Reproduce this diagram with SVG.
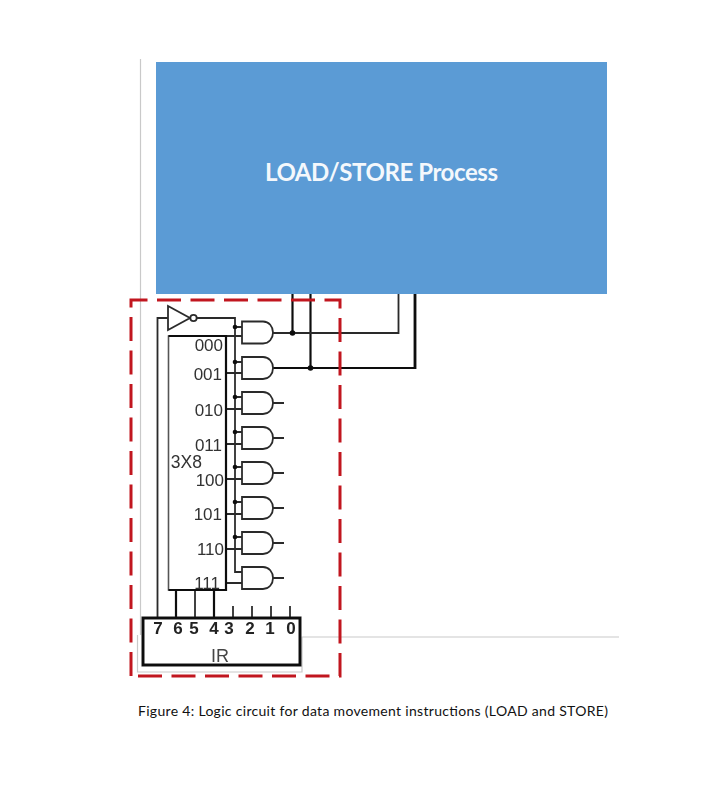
<svg xmlns="http://www.w3.org/2000/svg" width="716" height="798" viewBox="0 0 716 798">
<style>
.w{fill:none;stroke:#2c2c2c;stroke-width:1.8}
.k{fill:none;stroke:#111;stroke-width:2.2}
.g{fill:none;stroke:#c9c9c9;stroke-width:1.2}
.gate{fill:#fff;stroke:#2c2c2c;stroke-width:1.8}
.d{fill:#111}
.s{filter:url(#soft)}
.t{font-family:"Liberation Sans",Arial,sans-serif;font-size:17px;fill:#333;text-anchor:end}
.b{font-family:"Liberation Sans",Arial,sans-serif;font-size:17px;font-weight:bold;fill:#222;text-anchor:middle}
</style>
<defs>
<path id="and" d="M0 0H21C27 0 31 5 31 11S27 22 21 22H0Z"/>
<filter id="soft" x="-5%" y="-5%" width="110%" height="110%"><feGaussianBlur stdDeviation="0.35"/></filter>
</defs>
<rect width="716" height="798" fill="#fff"/>
<g id="frame-lines">
<path class="g" d="M140.500 59V635M137.500 635V672H302V637H619"/>
</g>
<g id="load-store-process">
<rect x="156" y="62" width="451" height="232" fill="#5b9bd5"/>
<text x="381.500" y="181" font-family="Lato,'Open Sans',sans-serif" font-size="24" font-weight="bold" fill="#f4f8fc" text-anchor="middle" textLength="233">LOAD/STORE Process</text>
</g>
<g id="connectors" class="s">
<path class="k" d="M292.500 294V333M310.500 294V368M273 368H415"/>
<path d="M415 294V369" fill="none" stroke="#111" stroke-width="2.800"/>
<path class="w" d="M273 333H398.500V294"/>
<path class="w" d="M168 318H157.500V618M197 318H235V572H242"/>
<path class="w" d="M235 327H242M235 362H242M235 397H242M235 432H242M235 467H242M235 502H242M235 537H242"/>
<path class="w" d="M226 336H242M226 373H242M226 409H242M226 444H242M226 479H242M226 514H242M226 549H242M226 583H242"/>
<path class="w" d="M273 403H284M273 438H284M273 473H284M273 508H284M273 543H284M273 578H284"/>
<path class="k" d="M176 590V618M214 590V618"/>
<path class="w" d="M195 590V618M233 606V618M252 606V618M271 606V618M290 606V618"/>
<circle class="d" cx="292.500" cy="333" r="2.800"/><circle class="d" cx="310.500" cy="368" r="2.800"/>
<circle class="d" cx="235" cy="327" r="2.300"/><circle class="d" cx="235" cy="362" r="2.300"/><circle class="d" cx="235" cy="397" r="2.300"/><circle class="d" cx="235" cy="432" r="2.300"/><circle class="d" cx="235" cy="467" r="2.300"/><circle class="d" cx="235" cy="502" r="2.300"/><circle class="d" cx="235" cy="537" r="2.300"/>
</g>
<g id="inverter" class="s">
<path class="gate" d="M168 306V330L190 318Z"/>
<circle class="gate" cx="193.500" cy="318" r="3.200"/>
</g>
<g id="decoder" class="s">
<path d="M168.500 590V336H226V590Z" fill="none" stroke="#555" stroke-width="1.600"/>
<path class="k" d="M168.500 336H226V590H168.500"/>
<text class="t" x="223" y="351">000</text>
<text class="t" x="222" y="380">001</text>
<text class="t" x="223" y="416">010</text>
<text class="t" x="222" y="451">011</text>
<text class="t" x="224" y="486">100</text>
<text class="t" x="222" y="520">101</text>
<text class="t" x="224" y="555">110</text>
<text class="t" x="220" y="589">111</text>
<text class="t" x="202" y="468" style="font-size:17.500px">3X8</text>
</g>
<g id="and-000" class="s"><use href="#and" class="gate" x="242" y="321.500"/></g>
<g id="and-001" class="s"><use href="#and" class="gate" x="242" y="357"/></g>
<g id="and-010" class="s"><use href="#and" class="gate" x="242" y="392"/></g>
<g id="and-011" class="s"><use href="#and" class="gate" x="242" y="427"/></g>
<g id="and-100" class="s"><use href="#and" class="gate" x="242" y="462"/></g>
<g id="and-101" class="s"><use href="#and" class="gate" x="242" y="497"/></g>
<g id="and-110" class="s"><use href="#and" class="gate" x="242" y="532"/></g>
<g id="and-111" class="s"><use href="#and" class="gate" x="242" y="567"/></g>
<g id="ir" class="s">
<rect x="143" y="618" width="157" height="47" fill="none" stroke="#111" stroke-width="3"/>
<text class="b" x="158" y="634">7</text>
<text class="b" x="178" y="634">6</text>
<text class="b" x="194" y="634">5</text>
<text class="b" x="214" y="634">4</text>
<text class="b" x="229" y="634">3</text>
<text class="b" x="250" y="634">2</text>
<text class="b" x="270" y="634">1</text>
<text class="b" x="291" y="634">0</text>
<text x="220" y="662" font-family="'Liberation Sans',Arial,sans-serif" font-size="18" fill="#444" text-anchor="middle">IR</text>
</g>
<g id="selection">
<path d="M131 676V300H340V676H131" fill="none" stroke="#c1161f" stroke-width="3" stroke-dasharray="24 9.500"/>
</g>
<g id="caption">
<text x="138" y="716" font-family="Lato,'Open Sans',sans-serif" font-size="14" fill="#111" textLength="470">Figure 4: Logic circuit for data movement instructions (LOAD and STORE)</text>
</g>
</svg>
